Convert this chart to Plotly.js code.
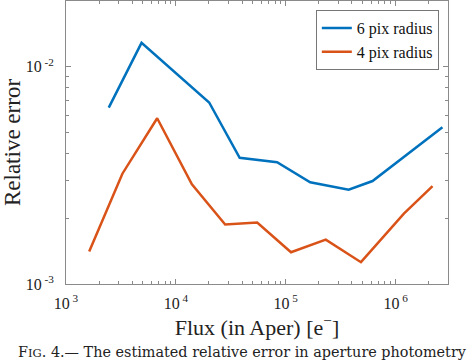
<!DOCTYPE html>
<html>
<head>
<meta charset="utf-8">
<script src="https://cdn.plot.ly/plotly-3.0.1.min.js"></script>
<style>html,body{margin:0;padding:0;background:#fff;}#chart{width:474px;height:364px;}</style>
</head>
<body>
<div id="chart"></div>
<script>
// Data
var flux6 = [2450, 4870, 20100, 38100, 83400, 167000, 374000, 617000, 2670000];
var err6  = [0.00649, 0.0129, 0.00685, 0.00381, 0.00364, 0.00294, 0.00272, 0.00298, 0.00527];
var flux4 = [1626, 3260, 6760, 14000, 28100, 55000, 111700, 231500, 484000, 1190000, 2170000];
var err4  = [0.00141, 0.00322, 0.00580, 0.00288, 0.00188, 0.00192, 0.00140, 0.00160, 0.00126, 0.00211, 0.00282];
var seriesNames = ["6 pix radius", "4 pix radius"];
var xTickVals = [1e3, 1e4, 1e5, 1e6];
var xTickText = ["10<sup> 3</sup>", "10<sup> 4</sup>", "10<sup> 5</sup>", "10<sup> 6</sup>"];
var yTickVals = [1e-3, 1e-2];
var yTickText = ["10<sup> -3</sup>", "10<sup> -2</sup>"];

var F = "Liberation Serif";
var FW = "DejaVu Serif";
var traces = [
  {x: flux6, y: err6, name: seriesNames[0], mode: "lines", line: {color: "#0072BD", width: 2.5}},
  {x: flux4, y: err4, name: seriesNames[1], mode: "lines", line: {color: "#D95319", width: 2.5}}
];
var axisCommon = {
  type: "log", showgrid: false, zeroline: false, showline: true, mirror: "ticks",
  linecolor: "#8a8a8a", linewidth: 1, ticks: "inside", ticklen: 5, tickcolor: "#8a8a8a",
  tickfont: {family: F, size: 16, color: "#222"},
  minor: {ticks: "inside", ticklen: 3, tickcolor: "#8a8a8a", dtick: "D1", showgrid: false}
};
var layout = {
  width: 474, height: 364,
  margin: {l: 66, r: 26, t: 1, b: 80},
  paper_bgcolor: "#fff", plot_bgcolor: "#fff",
  font: {family: F},
  showlegend: true,
  legend: {x: 0.976, y: 0.968, xanchor: "right", yanchor: "top",
           bgcolor: "#fff", bordercolor: "#777", borderwidth: 1,
           font: {family: F, size: 16, color: "#111"}, tracegroupgap: 0},
  xaxis: Object.assign({}, axisCommon, {
    range: [3, Math.log10(3e6)], tickvals: xTickVals, ticktext: xTickText,
    ticklabelstandoff: 5,
    title: {text: "Flux (in Aper) [e<sup>−</sup>]", font: {family: F, size: 22, color: "#222"}, standoff: 5}
  }),
  yaxis: Object.assign({}, axisCommon, {
    range: [-3, Math.log10(0.0201)], tickvals: yTickVals, ticktext: yTickText,
    ticklabelstandoff: 8,
    title: {text: "Relative error", font: {family: F, size: 23, color: "#222"}, standoff: 4}
  }),
  annotations: [{
    xref: "paper", yref: "paper", x: -0.131, y: -0.24, xanchor: "left", yanchor: "middle",
    showarrow: false, align: "left",
    text: "F<span style='font-size:11.5px'>IG</span>. 4.— The estimated relative error in aperture photometry",
    font: {family: FW, size: 14.4, color: "#222"}
  }]
};
Plotly.newPlot("chart", traces, layout, {displayModeBar: false, staticPlot: true});
</script>
</body>
</html>
